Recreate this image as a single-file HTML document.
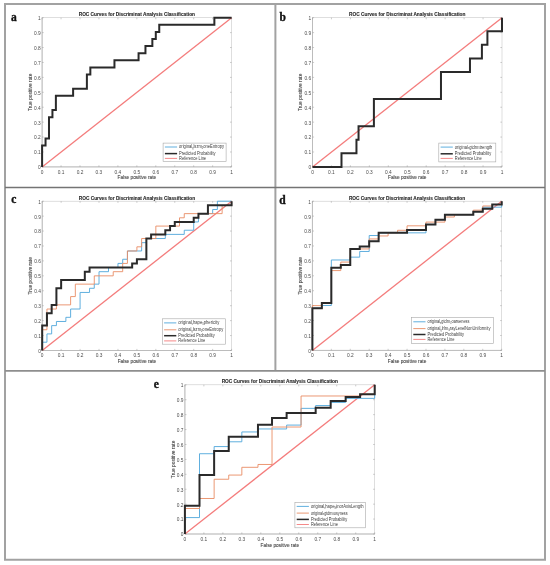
<!DOCTYPE html>
<html><head><meta charset="utf-8"><style>
html,body{margin:0;padding:0;background:#fff;width:550px;height:565px;overflow:hidden}
svg{display:block;will-change:transform}
text{font-family:"Liberation Sans",sans-serif}
.tk{font-size:4.8px;fill:#4a4a4a}
.lb{font-size:4.9px;fill:#444;stroke:#444;stroke-width:0.1px}
.tt{font-size:4.9px;font-weight:bold;fill:#2a2a2a;stroke:#2a2a2a;stroke-width:0.12px}
.lg{font-size:4.8px;fill:#3a3a3a}
.pl{font-family:"Liberation Serif",serif;font-weight:bold;font-size:11.5px;fill:#111;stroke:#111;stroke-width:0.35px}
</style></head><body>
<svg width="550" height="565" viewBox="0 0 550 565">
<rect width="550" height="565" fill="#fff"/>
<path d="M5 4H545V559.8H5Z M275.4 4V370.8" fill="none" stroke="#a2a2a2" stroke-width="2"/>
<path d="M5 187.4H545" stroke="#747474" stroke-width="1.5"/>
<path d="M5 370.8H545" stroke="#8e8e8e" stroke-width="1.8"/>
<rect x="42.1" y="17.7" width="189.5" height="149.2" fill="none" stroke="#c8c8c8" stroke-width="0.6"/>
<path d="M42.1 17.7V166.9H231.6" fill="none" stroke="#b4b4b4" stroke-width="0.8"/>
<path d="M42.1 166.9v-1.6M42.1 17.7v1.6M42.1 166.9h1.6M231.6 166.9h-1.6M61.05 166.9v-1.6M61.05 17.7v1.6M42.1 151.98h1.6M231.6 151.98h-1.6M80 166.9v-1.6M80 17.7v1.6M42.1 137.06h1.6M231.6 137.06h-1.6M98.95 166.9v-1.6M98.95 17.7v1.6M42.1 122.14h1.6M231.6 122.14h-1.6M117.9 166.9v-1.6M117.9 17.7v1.6M42.1 107.22h1.6M231.6 107.22h-1.6M136.85 166.9v-1.6M136.85 17.7v1.6M42.1 92.3h1.6M231.6 92.3h-1.6M155.8 166.9v-1.6M155.8 17.7v1.6M42.1 77.38h1.6M231.6 77.38h-1.6M174.75 166.9v-1.6M174.75 17.7v1.6M42.1 62.46h1.6M231.6 62.46h-1.6M193.7 166.9v-1.6M193.7 17.7v1.6M42.1 47.54h1.6M231.6 47.54h-1.6M212.65 166.9v-1.6M212.65 17.7v1.6M42.1 32.62h1.6M231.6 32.62h-1.6M231.6 166.9v-1.6M231.6 17.7v1.6M42.1 17.7h1.6M231.6 17.7h-1.6" stroke="#999" stroke-width="0.5"/>
<text x="42.1" y="173.8" class="tk" text-anchor="middle">0</text>
<text x="40.7" y="169.3" class="tk" text-anchor="end">0</text>
<text x="61.05" y="173.8" class="tk" text-anchor="middle">0.1</text>
<text x="40.7" y="154.38" class="tk" text-anchor="end">0.1</text>
<text x="80" y="173.8" class="tk" text-anchor="middle">0.2</text>
<text x="40.7" y="139.46" class="tk" text-anchor="end">0.2</text>
<text x="98.95" y="173.8" class="tk" text-anchor="middle">0.3</text>
<text x="40.7" y="124.54" class="tk" text-anchor="end">0.3</text>
<text x="117.9" y="173.8" class="tk" text-anchor="middle">0.4</text>
<text x="40.7" y="109.62" class="tk" text-anchor="end">0.4</text>
<text x="136.85" y="173.8" class="tk" text-anchor="middle">0.5</text>
<text x="40.7" y="94.7" class="tk" text-anchor="end">0.5</text>
<text x="155.8" y="173.8" class="tk" text-anchor="middle">0.6</text>
<text x="40.7" y="79.78" class="tk" text-anchor="end">0.6</text>
<text x="174.75" y="173.8" class="tk" text-anchor="middle">0.7</text>
<text x="40.7" y="64.86" class="tk" text-anchor="end">0.7</text>
<text x="193.7" y="173.8" class="tk" text-anchor="middle">0.8</text>
<text x="40.7" y="49.94" class="tk" text-anchor="end">0.8</text>
<text x="212.65" y="173.8" class="tk" text-anchor="middle">0.9</text>
<text x="40.7" y="35.02" class="tk" text-anchor="end">0.9</text>
<text x="231.6" y="173.8" class="tk" text-anchor="middle">1</text>
<text x="40.7" y="20.1" class="tk" text-anchor="end">1</text>
<text x="136.85" y="179.4" class="lb" text-anchor="middle" textLength="38.5" lengthAdjust="spacingAndGlyphs">False positive rate</text>
<text transform="translate(31.8 92.3) rotate(-90)" class="lb" text-anchor="middle" textLength="37.5" lengthAdjust="spacingAndGlyphs">True positive rate</text>
<text x="136.85" y="16.3" class="tt" text-anchor="middle" textLength="116.3" lengthAdjust="spacingAndGlyphs">ROC Curves for Discriminat Analysis Classification</text>
<path d="M42.1 166.9L231.6 17.7" stroke="#f47c7c" stroke-width="1.3"/>
<path d="M42.1 166.9 42.1 145.59 45.55 145.59 45.55 138.48 48.99 138.48 48.99 117.17 52.44 117.17 52.44 110.06 55.88 110.06 55.88 95.85 73.11 95.85 73.11 88.75 86.89 88.75 86.89 74.54 90.34 74.54 90.34 67.43 114.45 67.43 114.45 60.33 138.57 60.33 138.57 53.22 145.46 53.22 145.46 46.12 152.35 46.12 152.35 39.01 155.8 39.01 155.8 31.91 159.25 31.91 159.25 24.8 214.37 24.8 214.37 17.7 231.6 17.7" fill="none" stroke="#2a2a2a" stroke-width="2.0" stroke-linejoin="miter"/>
<rect x="163.1" y="143.1" width="63" height="18.5" fill="#fff" stroke="#a8a8a8" stroke-width="0.6"/>
<path d="M164.9 147H177.1" stroke="#4ea6da" stroke-width="0.9"/>
<text x="179.1" y="148.4" class="lg" textLength="44.9" lengthAdjust="spacingAndGlyphs">original<tspan dy="0.8" font-size="2.6">g</tspan><tspan dy="-0.8">lszm</tspan><tspan dy="0.8" font-size="2.6">Z</tspan><tspan dy="-0.8">oneEntropy</tspan></text>
<path d="M164.9 153.6H177.1" stroke="#2a2a2a" stroke-width="1.5"/>
<text x="179.1" y="155" class="lg" textLength="36.4" lengthAdjust="spacingAndGlyphs">Predicted Probability</text>
<path d="M164.9 158.4H177.1" stroke="#f47c7c" stroke-width="0.9"/>
<text x="179.1" y="159.8" class="lg" textLength="27" lengthAdjust="spacingAndGlyphs">Reference Line</text>
<text x="11.1" y="21.1" class="pl">a</text>
<rect x="312.5" y="17.7" width="189.5" height="149.2" fill="none" stroke="#c8c8c8" stroke-width="0.6"/>
<path d="M312.5 17.7V166.9H502" fill="none" stroke="#b4b4b4" stroke-width="0.8"/>
<path d="M312.5 166.9v-1.6M312.5 17.7v1.6M312.5 166.9h1.6M502 166.9h-1.6M331.45 166.9v-1.6M331.45 17.7v1.6M312.5 151.98h1.6M502 151.98h-1.6M350.4 166.9v-1.6M350.4 17.7v1.6M312.5 137.06h1.6M502 137.06h-1.6M369.35 166.9v-1.6M369.35 17.7v1.6M312.5 122.14h1.6M502 122.14h-1.6M388.3 166.9v-1.6M388.3 17.7v1.6M312.5 107.22h1.6M502 107.22h-1.6M407.25 166.9v-1.6M407.25 17.7v1.6M312.5 92.3h1.6M502 92.3h-1.6M426.2 166.9v-1.6M426.2 17.7v1.6M312.5 77.38h1.6M502 77.38h-1.6M445.15 166.9v-1.6M445.15 17.7v1.6M312.5 62.46h1.6M502 62.46h-1.6M464.1 166.9v-1.6M464.1 17.7v1.6M312.5 47.54h1.6M502 47.54h-1.6M483.05 166.9v-1.6M483.05 17.7v1.6M312.5 32.62h1.6M502 32.62h-1.6M502 166.9v-1.6M502 17.7v1.6M312.5 17.7h1.6M502 17.7h-1.6" stroke="#999" stroke-width="0.5"/>
<text x="312.5" y="173.8" class="tk" text-anchor="middle">0</text>
<text x="311.1" y="169.3" class="tk" text-anchor="end">0</text>
<text x="331.45" y="173.8" class="tk" text-anchor="middle">0.1</text>
<text x="311.1" y="154.38" class="tk" text-anchor="end">0.1</text>
<text x="350.4" y="173.8" class="tk" text-anchor="middle">0.2</text>
<text x="311.1" y="139.46" class="tk" text-anchor="end">0.2</text>
<text x="369.35" y="173.8" class="tk" text-anchor="middle">0.3</text>
<text x="311.1" y="124.54" class="tk" text-anchor="end">0.3</text>
<text x="388.3" y="173.8" class="tk" text-anchor="middle">0.4</text>
<text x="311.1" y="109.62" class="tk" text-anchor="end">0.4</text>
<text x="407.25" y="173.8" class="tk" text-anchor="middle">0.5</text>
<text x="311.1" y="94.7" class="tk" text-anchor="end">0.5</text>
<text x="426.2" y="173.8" class="tk" text-anchor="middle">0.6</text>
<text x="311.1" y="79.78" class="tk" text-anchor="end">0.6</text>
<text x="445.15" y="173.8" class="tk" text-anchor="middle">0.7</text>
<text x="311.1" y="64.86" class="tk" text-anchor="end">0.7</text>
<text x="464.1" y="173.8" class="tk" text-anchor="middle">0.8</text>
<text x="311.1" y="49.94" class="tk" text-anchor="end">0.8</text>
<text x="483.05" y="173.8" class="tk" text-anchor="middle">0.9</text>
<text x="311.1" y="35.02" class="tk" text-anchor="end">0.9</text>
<text x="502" y="173.8" class="tk" text-anchor="middle">1</text>
<text x="311.1" y="20.1" class="tk" text-anchor="end">1</text>
<text x="407.25" y="179.4" class="lb" text-anchor="middle" textLength="38.5" lengthAdjust="spacingAndGlyphs">False positive rate</text>
<text transform="translate(302.2 92.3) rotate(-90)" class="lb" text-anchor="middle" textLength="37.5" lengthAdjust="spacingAndGlyphs">True positive rate</text>
<text x="407.25" y="16.3" class="tt" text-anchor="middle" textLength="116.3" lengthAdjust="spacingAndGlyphs">ROC Curves for Discriminat Analysis Classification</text>
<path d="M312.5 166.9L502 17.7" stroke="#f47c7c" stroke-width="1.3"/>
<path d="M312.5 166.9 341.49 166.9 341.49 153.34 356.46 153.34 356.46 139.77 358.55 139.77 358.55 126.21 373.9 126.21 373.9 99.08 440.98 99.08 440.98 71.95 469.97 71.95 469.97 58.39 481.91 58.39 481.91 44.83 487.41 44.83 487.41 31.26 502 31.26 502 17.7" fill="none" stroke="#2a2a2a" stroke-width="2.0" stroke-linejoin="miter"/>
<rect x="438.8" y="143.1" width="57" height="18.8" fill="#fff" stroke="#a8a8a8" stroke-width="0.6"/>
<path d="M440.6 147.1H452.8" stroke="#4ea6da" stroke-width="0.9"/>
<text x="454.8" y="148.5" class="lg" textLength="37.5" lengthAdjust="spacingAndGlyphs">original<tspan dy="0.8" font-size="2.6">n</tspan><tspan dy="-0.8">gtdm</tspan><tspan dy="0.8" font-size="2.6">S</tspan><tspan dy="-0.8">trength</tspan></text>
<path d="M440.6 153.8H452.8" stroke="#2a2a2a" stroke-width="1.5"/>
<text x="454.8" y="155.2" class="lg" textLength="36.4" lengthAdjust="spacingAndGlyphs">Predicted Probability</text>
<path d="M440.6 158.4H452.8" stroke="#f47c7c" stroke-width="0.9"/>
<text x="454.8" y="159.8" class="lg" textLength="27" lengthAdjust="spacingAndGlyphs">Reference Line</text>
<text x="279.5" y="21" class="pl">b</text>
<rect x="42.2" y="201.2" width="189.4" height="149.3" fill="none" stroke="#c8c8c8" stroke-width="0.6"/>
<path d="M42.2 201.2V350.5H231.6" fill="none" stroke="#b4b4b4" stroke-width="0.8"/>
<path d="M42.2 350.5v-1.6M42.2 201.2v1.6M42.2 350.5h1.6M231.6 350.5h-1.6M61.14 350.5v-1.6M61.14 201.2v1.6M42.2 335.57h1.6M231.6 335.57h-1.6M80.08 350.5v-1.6M80.08 201.2v1.6M42.2 320.64h1.6M231.6 320.64h-1.6M99.02 350.5v-1.6M99.02 201.2v1.6M42.2 305.71h1.6M231.6 305.71h-1.6M117.96 350.5v-1.6M117.96 201.2v1.6M42.2 290.78h1.6M231.6 290.78h-1.6M136.9 350.5v-1.6M136.9 201.2v1.6M42.2 275.85h1.6M231.6 275.85h-1.6M155.84 350.5v-1.6M155.84 201.2v1.6M42.2 260.92h1.6M231.6 260.92h-1.6M174.78 350.5v-1.6M174.78 201.2v1.6M42.2 245.99h1.6M231.6 245.99h-1.6M193.72 350.5v-1.6M193.72 201.2v1.6M42.2 231.06h1.6M231.6 231.06h-1.6M212.66 350.5v-1.6M212.66 201.2v1.6M42.2 216.13h1.6M231.6 216.13h-1.6M231.6 350.5v-1.6M231.6 201.2v1.6M42.2 201.2h1.6M231.6 201.2h-1.6" stroke="#999" stroke-width="0.5"/>
<text x="42.2" y="357.4" class="tk" text-anchor="middle">0</text>
<text x="40.8" y="352.9" class="tk" text-anchor="end">0</text>
<text x="61.14" y="357.4" class="tk" text-anchor="middle">0.1</text>
<text x="40.8" y="337.97" class="tk" text-anchor="end">0.1</text>
<text x="80.08" y="357.4" class="tk" text-anchor="middle">0.2</text>
<text x="40.8" y="323.04" class="tk" text-anchor="end">0.2</text>
<text x="99.02" y="357.4" class="tk" text-anchor="middle">0.3</text>
<text x="40.8" y="308.11" class="tk" text-anchor="end">0.3</text>
<text x="117.96" y="357.4" class="tk" text-anchor="middle">0.4</text>
<text x="40.8" y="293.18" class="tk" text-anchor="end">0.4</text>
<text x="136.9" y="357.4" class="tk" text-anchor="middle">0.5</text>
<text x="40.8" y="278.25" class="tk" text-anchor="end">0.5</text>
<text x="155.84" y="357.4" class="tk" text-anchor="middle">0.6</text>
<text x="40.8" y="263.32" class="tk" text-anchor="end">0.6</text>
<text x="174.78" y="357.4" class="tk" text-anchor="middle">0.7</text>
<text x="40.8" y="248.39" class="tk" text-anchor="end">0.7</text>
<text x="193.72" y="357.4" class="tk" text-anchor="middle">0.8</text>
<text x="40.8" y="233.46" class="tk" text-anchor="end">0.8</text>
<text x="212.66" y="357.4" class="tk" text-anchor="middle">0.9</text>
<text x="40.8" y="218.53" class="tk" text-anchor="end">0.9</text>
<text x="231.6" y="357.4" class="tk" text-anchor="middle">1</text>
<text x="40.8" y="203.6" class="tk" text-anchor="end">1</text>
<text x="136.9" y="363" class="lb" text-anchor="middle" textLength="38.5" lengthAdjust="spacingAndGlyphs">False positive rate</text>
<text transform="translate(31.9 275.85) rotate(-90)" class="lb" text-anchor="middle" textLength="37.5" lengthAdjust="spacingAndGlyphs">True positive rate</text>
<text x="136.9" y="199.8" class="tt" text-anchor="middle" textLength="116.3" lengthAdjust="spacingAndGlyphs">ROC Curves for Discriminat Analysis Classification</text>
<path d="M42.2 350.5L231.6 201.2" stroke="#f47c7c" stroke-width="1.3"/>
<path d="M42.2 350.5 42.2 342.21 46.94 342.21 46.94 333.91 51.67 333.91 51.67 325.62 56.41 325.62 56.41 321.47 65.88 321.47 65.88 317.32 70.61 317.32 70.61 309.03 80.08 309.03 80.08 292.44 89.55 292.44 89.55 288.29 94.28 288.29 94.28 284.14 99.02 284.14 99.02 271.7 108.49 271.7 108.49 267.56 117.96 267.56 117.96 263.41 122.69 263.41 122.69 259.26 127.43 259.26 127.43 250.97 141.63 250.97 141.63 242.67 146.37 242.67 146.37 238.52 165.31 238.52 165.31 234.38 184.25 234.38 184.25 230.23 193.72 230.23 193.72 221.94 198.45 221.94 198.45 213.64 212.66 213.64 212.66 209.49 217.39 209.49 217.39 201.2 231.6 201.2" fill="none" stroke="#4ea6da" stroke-width="0.9" stroke-linejoin="miter"/>
<path d="M42.2 350.5 42.2 329.76 46.94 329.76 46.94 309.03 56.41 309.03 56.41 304.88 70.61 304.88 70.61 296.59 75.34 296.59 75.34 284.14 94.28 284.14 94.28 275.85 113.22 275.85 113.22 271.7 122.69 271.7 122.69 263.41 127.43 263.41 127.43 250.97 136.9 250.97 136.9 246.82 141.63 246.82 141.63 238.52 155.84 238.52 155.84 226.08 179.51 226.08 179.51 217.79 184.25 217.79 184.25 213.64 222.13 213.64 222.13 205.35 231.6 205.35 231.6 201.2" fill="none" stroke="#e98c64" stroke-width="0.9" stroke-linejoin="miter"/>
<path d="M42.2 350.5 42.2 325.62 46.94 325.62 46.94 313.18 51.67 313.18 51.67 304.88 56.41 304.88 56.41 288.29 61.14 288.29 61.14 280 84.81 280 84.81 271.7 89.55 271.7 89.55 267.56 132.16 267.56 132.16 263.41 136.9 263.41 136.9 259.26 146.37 259.26 146.37 238.52 151.1 238.52 151.1 234.38 165.31 234.38 165.31 230.23 170.05 230.23 170.05 226.08 174.78 226.08 174.78 221.94 193.72 221.94 193.72 217.79 198.45 217.79 198.45 213.64 207.92 213.64 207.92 205.35 231.6 205.35 231.6 201.2" fill="none" stroke="#2a2a2a" stroke-width="2.0" stroke-linejoin="miter"/>
<rect x="162.3" y="318.8" width="63.3" height="25.4" fill="#fff" stroke="#a8a8a8" stroke-width="0.6"/>
<path d="M164.1 322.9H176.3" stroke="#4ea6da" stroke-width="0.9"/>
<text x="178.3" y="324.3" class="lg" textLength="41" lengthAdjust="spacingAndGlyphs">original<tspan dy="0.8" font-size="2.6">s</tspan><tspan dy="-0.8">hape</tspan><tspan dy="0.8" font-size="2.6">S</tspan><tspan dy="-0.8">phericity</tspan></text>
<path d="M164.1 329.8H176.3" stroke="#e98c64" stroke-width="0.9"/>
<text x="178.3" y="331.2" class="lg" textLength="44.9" lengthAdjust="spacingAndGlyphs">original<tspan dy="0.8" font-size="2.6">g</tspan><tspan dy="-0.8">lszm</tspan><tspan dy="0.8" font-size="2.6">Z</tspan><tspan dy="-0.8">oneEntropy</tspan></text>
<path d="M164.1 335.7H176.3" stroke="#2a2a2a" stroke-width="1.5"/>
<text x="178.3" y="337.1" class="lg" textLength="36.4" lengthAdjust="spacingAndGlyphs">Predicted Probability</text>
<path d="M164.1 340.9H176.3" stroke="#f47c7c" stroke-width="0.9"/>
<text x="178.3" y="342.3" class="lg" textLength="27" lengthAdjust="spacingAndGlyphs">Reference Line</text>
<text x="11.3" y="203.4" class="pl">c</text>
<rect x="312.4" y="201.2" width="189.3" height="149.2" fill="none" stroke="#c8c8c8" stroke-width="0.6"/>
<path d="M312.4 201.2V350.4H501.7" fill="none" stroke="#b4b4b4" stroke-width="0.8"/>
<path d="M312.4 350.4v-1.6M312.4 201.2v1.6M312.4 350.4h1.6M501.7 350.4h-1.6M331.33 350.4v-1.6M331.33 201.2v1.6M312.4 335.48h1.6M501.7 335.48h-1.6M350.26 350.4v-1.6M350.26 201.2v1.6M312.4 320.56h1.6M501.7 320.56h-1.6M369.19 350.4v-1.6M369.19 201.2v1.6M312.4 305.64h1.6M501.7 305.64h-1.6M388.12 350.4v-1.6M388.12 201.2v1.6M312.4 290.72h1.6M501.7 290.72h-1.6M407.05 350.4v-1.6M407.05 201.2v1.6M312.4 275.8h1.6M501.7 275.8h-1.6M425.98 350.4v-1.6M425.98 201.2v1.6M312.4 260.88h1.6M501.7 260.88h-1.6M444.91 350.4v-1.6M444.91 201.2v1.6M312.4 245.96h1.6M501.7 245.96h-1.6M463.84 350.4v-1.6M463.84 201.2v1.6M312.4 231.04h1.6M501.7 231.04h-1.6M482.77 350.4v-1.6M482.77 201.2v1.6M312.4 216.12h1.6M501.7 216.12h-1.6M501.7 350.4v-1.6M501.7 201.2v1.6M312.4 201.2h1.6M501.7 201.2h-1.6" stroke="#999" stroke-width="0.5"/>
<text x="312.4" y="357.3" class="tk" text-anchor="middle">0</text>
<text x="311" y="352.8" class="tk" text-anchor="end">0</text>
<text x="331.33" y="357.3" class="tk" text-anchor="middle">0.1</text>
<text x="311" y="337.88" class="tk" text-anchor="end">0.1</text>
<text x="350.26" y="357.3" class="tk" text-anchor="middle">0.2</text>
<text x="311" y="322.96" class="tk" text-anchor="end">0.2</text>
<text x="369.19" y="357.3" class="tk" text-anchor="middle">0.3</text>
<text x="311" y="308.04" class="tk" text-anchor="end">0.3</text>
<text x="388.12" y="357.3" class="tk" text-anchor="middle">0.4</text>
<text x="311" y="293.12" class="tk" text-anchor="end">0.4</text>
<text x="407.05" y="357.3" class="tk" text-anchor="middle">0.5</text>
<text x="311" y="278.2" class="tk" text-anchor="end">0.5</text>
<text x="425.98" y="357.3" class="tk" text-anchor="middle">0.6</text>
<text x="311" y="263.28" class="tk" text-anchor="end">0.6</text>
<text x="444.91" y="357.3" class="tk" text-anchor="middle">0.7</text>
<text x="311" y="248.36" class="tk" text-anchor="end">0.7</text>
<text x="463.84" y="357.3" class="tk" text-anchor="middle">0.8</text>
<text x="311" y="233.44" class="tk" text-anchor="end">0.8</text>
<text x="482.77" y="357.3" class="tk" text-anchor="middle">0.9</text>
<text x="311" y="218.52" class="tk" text-anchor="end">0.9</text>
<text x="501.7" y="357.3" class="tk" text-anchor="middle">1</text>
<text x="311" y="203.6" class="tk" text-anchor="end">1</text>
<text x="407.05" y="362.9" class="lb" text-anchor="middle" textLength="38.5" lengthAdjust="spacingAndGlyphs">False positive rate</text>
<text transform="translate(302.1 275.8) rotate(-90)" class="lb" text-anchor="middle" textLength="37.5" lengthAdjust="spacingAndGlyphs">True positive rate</text>
<text x="407.05" y="199.8" class="tt" text-anchor="middle" textLength="116.3" lengthAdjust="spacingAndGlyphs">ROC Curves for Discriminat Analysis Classification</text>
<path d="M312.4 350.4L501.7 201.2" stroke="#f47c7c" stroke-width="1.3"/>
<path d="M312.4 350.4 312.4 308.18 321.86 308.18 321.86 305.49 331.33 305.49 331.33 259.98 350.26 259.98 350.26 257.15 359.72 257.15 359.72 251.48 369.19 251.48 369.19 235.52 378.65 235.52 378.65 232.83 425.98 232.83 425.98 224.62 435.44 224.62 435.44 219.85 444.91 219.85 444.91 214.63 473.3 214.63 473.3 211.64 482.77 211.64 482.77 207.17 501.7 207.17 501.7 201.2" fill="none" stroke="#4ea6da" stroke-width="0.9" stroke-linejoin="miter"/>
<path d="M312.4 350.4 312.4 305.64 321.86 305.64 321.86 302.95 331.33 302.95 331.33 270.58 340.79 270.58 340.79 262.07 350.26 262.07 350.26 248.94 369.19 248.94 369.19 238.95 378.65 238.95 378.65 235.96 388.12 235.96 388.12 232.83 397.58 232.83 397.58 230.29 407.05 230.29 407.05 225.82 425.98 225.82 425.98 222.09 444.91 222.09 444.91 217.02 454.38 217.02 454.38 214.63 473.3 214.63 473.3 210.15 482.77 210.15 482.77 205.97 492.24 205.97 492.24 204.48 501.7 204.48 501.7 201.2" fill="none" stroke="#e98c64" stroke-width="0.9" stroke-linejoin="miter"/>
<path d="M312.4 350.4 312.4 308.18 321.86 308.18 321.86 302.95 331.33 302.95 331.33 267.74 340.79 267.74 340.79 265.06 350.26 265.06 350.26 248.94 359.72 248.94 359.72 246.56 369.19 246.56 369.19 241.33 378.65 241.33 378.65 232.83 407.05 232.83 407.05 230 425.98 230 425.98 224.62 435.44 224.62 435.44 219.85 444.91 219.85 444.91 214.63 473.3 214.63 473.3 211.64 482.77 211.64 482.77 208.66 492.24 208.66 492.24 204.48 501.7 204.48 501.7 201.2" fill="none" stroke="#2a2a2a" stroke-width="2.0" stroke-linejoin="miter"/>
<rect x="411.5" y="317.6" width="81.8" height="26" fill="#fff" stroke="#a8a8a8" stroke-width="0.6"/>
<path d="M413.3 321.8H425.5" stroke="#4ea6da" stroke-width="0.9"/>
<text x="427.5" y="323.2" class="lg" textLength="42" lengthAdjust="spacingAndGlyphs">original<tspan dy="0.8" font-size="2.6">n</tspan><tspan dy="-0.8">gtdm</tspan><tspan dy="0.8" font-size="2.6">C</tspan><tspan dy="-0.8">oarseness</tspan></text>
<path d="M413.3 328.6H425.5" stroke="#e98c64" stroke-width="0.9"/>
<text x="427.5" y="330" class="lg" textLength="63" lengthAdjust="spacingAndGlyphs">original<tspan dy="0.8" font-size="2.6">g</tspan><tspan dy="-0.8">lrlm</tspan><tspan dy="0.8" font-size="2.6">G</tspan><tspan dy="-0.8">rayLevelNonUniformity</tspan></text>
<path d="M413.3 334.5H425.5" stroke="#2a2a2a" stroke-width="1.5"/>
<text x="427.5" y="335.9" class="lg" textLength="36.4" lengthAdjust="spacingAndGlyphs">Predicted Probability</text>
<path d="M413.3 339.4H425.5" stroke="#f47c7c" stroke-width="0.9"/>
<text x="427.5" y="340.8" class="lg" textLength="27" lengthAdjust="spacingAndGlyphs">Reference Line</text>
<text x="279.3" y="204.3" class="pl">d</text>
<rect x="184.9" y="384.8" width="189.8" height="149.2" fill="none" stroke="#c8c8c8" stroke-width="0.6"/>
<path d="M184.9 384.8V534H374.7" fill="none" stroke="#b4b4b4" stroke-width="0.8"/>
<path d="M184.9 534v-1.6M184.9 384.8v1.6M184.9 534h1.6M374.7 534h-1.6M203.88 534v-1.6M203.88 384.8v1.6M184.9 519.08h1.6M374.7 519.08h-1.6M222.86 534v-1.6M222.86 384.8v1.6M184.9 504.16h1.6M374.7 504.16h-1.6M241.84 534v-1.6M241.84 384.8v1.6M184.9 489.24h1.6M374.7 489.24h-1.6M260.82 534v-1.6M260.82 384.8v1.6M184.9 474.32h1.6M374.7 474.32h-1.6M279.8 534v-1.6M279.8 384.8v1.6M184.9 459.4h1.6M374.7 459.4h-1.6M298.78 534v-1.6M298.78 384.8v1.6M184.9 444.48h1.6M374.7 444.48h-1.6M317.76 534v-1.6M317.76 384.8v1.6M184.9 429.56h1.6M374.7 429.56h-1.6M336.74 534v-1.6M336.74 384.8v1.6M184.9 414.64h1.6M374.7 414.64h-1.6M355.72 534v-1.6M355.72 384.8v1.6M184.9 399.72h1.6M374.7 399.72h-1.6M374.7 534v-1.6M374.7 384.8v1.6M184.9 384.8h1.6M374.7 384.8h-1.6" stroke="#999" stroke-width="0.5"/>
<text x="184.9" y="540.9" class="tk" text-anchor="middle">0</text>
<text x="183.5" y="536.4" class="tk" text-anchor="end">0</text>
<text x="203.88" y="540.9" class="tk" text-anchor="middle">0.1</text>
<text x="183.5" y="521.48" class="tk" text-anchor="end">0.1</text>
<text x="222.86" y="540.9" class="tk" text-anchor="middle">0.2</text>
<text x="183.5" y="506.56" class="tk" text-anchor="end">0.2</text>
<text x="241.84" y="540.9" class="tk" text-anchor="middle">0.3</text>
<text x="183.5" y="491.64" class="tk" text-anchor="end">0.3</text>
<text x="260.82" y="540.9" class="tk" text-anchor="middle">0.4</text>
<text x="183.5" y="476.72" class="tk" text-anchor="end">0.4</text>
<text x="279.8" y="540.9" class="tk" text-anchor="middle">0.5</text>
<text x="183.5" y="461.8" class="tk" text-anchor="end">0.5</text>
<text x="298.78" y="540.9" class="tk" text-anchor="middle">0.6</text>
<text x="183.5" y="446.88" class="tk" text-anchor="end">0.6</text>
<text x="317.76" y="540.9" class="tk" text-anchor="middle">0.7</text>
<text x="183.5" y="431.96" class="tk" text-anchor="end">0.7</text>
<text x="336.74" y="540.9" class="tk" text-anchor="middle">0.8</text>
<text x="183.5" y="417.04" class="tk" text-anchor="end">0.8</text>
<text x="355.72" y="540.9" class="tk" text-anchor="middle">0.9</text>
<text x="183.5" y="402.12" class="tk" text-anchor="end">0.9</text>
<text x="374.7" y="540.9" class="tk" text-anchor="middle">1</text>
<text x="183.5" y="387.2" class="tk" text-anchor="end">1</text>
<text x="279.8" y="546.5" class="lb" text-anchor="middle" textLength="38.5" lengthAdjust="spacingAndGlyphs">False positive rate</text>
<text transform="translate(174.6 459.4) rotate(-90)" class="lb" text-anchor="middle" textLength="37.5" lengthAdjust="spacingAndGlyphs">True positive rate</text>
<text x="279.8" y="383.4" class="tt" text-anchor="middle" textLength="116.3" lengthAdjust="spacingAndGlyphs">ROC Curves for Discriminat Analysis Classification</text>
<path d="M184.9 534L374.7 384.8" stroke="#f47c7c" stroke-width="1.3"/>
<path d="M184.9 534 184.9 517.59 199.51 517.59 199.51 453.73 214.13 453.73 214.13 446.57 228.74 446.57 228.74 441.79 241.84 441.79 241.84 431.95 257.97 431.95 257.97 428.96 286.63 428.96 286.63 425.08 301.06 425.08 301.06 408.37 315.67 408.37 315.67 405.54 330.67 405.54 330.67 402.41 345.66 402.41 345.66 398.38 374.7 398.38 374.7 384.8" fill="none" stroke="#4ea6da" stroke-width="0.9" stroke-linejoin="miter"/>
<path d="M184.9 534 184.9 508.49 199.51 508.49 199.51 498.49 214.13 498.49 214.13 479.24 228.74 479.24 228.74 475.07 241.84 475.07 241.84 467.31 257.97 467.31 257.97 464.47 272.02 464.47 272.02 427.02 301.06 427.02 301.06 395.99 360.09 395.99 360.09 394.35 374.7 394.35 374.7 384.8" fill="none" stroke="#e98c64" stroke-width="0.9" stroke-linejoin="miter"/>
<path d="M184.9 534 184.9 505.65 199.51 505.65 199.51 475.07 214.13 475.07 214.13 450.9 228.74 450.9 228.74 436.72 257.97 436.72 257.97 424.79 272.02 424.79 272.02 418.07 286.63 418.07 286.63 413 315.67 413 315.67 407.63 330.67 407.63 330.67 401.06 345.66 401.06 345.66 397.03 360.09 397.03 360.09 394.35 374.7 394.35 374.7 384.8" fill="none" stroke="#2a2a2a" stroke-width="2.0" stroke-linejoin="miter"/>
<rect x="294.9" y="502.4" width="70.6" height="25.4" fill="#fff" stroke="#a8a8a8" stroke-width="0.6"/>
<path d="M296.7 506.4H308.9" stroke="#4ea6da" stroke-width="0.9"/>
<text x="310.9" y="507.8" class="lg" textLength="52.7" lengthAdjust="spacingAndGlyphs">original<tspan dy="0.8" font-size="2.6">s</tspan><tspan dy="-0.8">hape</tspan><tspan dy="0.8" font-size="2.6">M</tspan><tspan dy="-0.8">inorAxisLength</tspan></text>
<path d="M296.7 513.1H308.9" stroke="#e98c64" stroke-width="0.9"/>
<text x="310.9" y="514.5" class="lg" textLength="36.7" lengthAdjust="spacingAndGlyphs">original<tspan dy="0.8" font-size="2.6">n</tspan><tspan dy="-0.8">gtdm</tspan><tspan dy="0.8" font-size="2.6">B</tspan><tspan dy="-0.8">usyness</tspan></text>
<path d="M296.7 519.4H308.9" stroke="#2a2a2a" stroke-width="1.5"/>
<text x="310.9" y="520.8" class="lg" textLength="36.4" lengthAdjust="spacingAndGlyphs">Predicted Probability</text>
<path d="M296.7 524.5H308.9" stroke="#f47c7c" stroke-width="0.9"/>
<text x="310.9" y="525.9" class="lg" textLength="27" lengthAdjust="spacingAndGlyphs">Reference Line</text>
<text x="153.8" y="387.6" class="pl">e</text>
</svg></body></html>
